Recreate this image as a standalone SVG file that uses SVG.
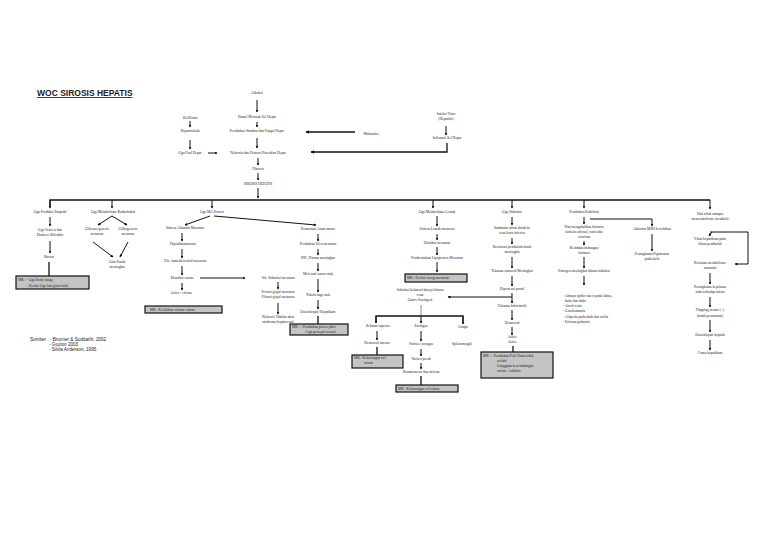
<svg xmlns="http://www.w3.org/2000/svg" width="768" height="543" viewBox="0 0 768 543">
<style>
text{font-family:"Liberation Serif",serif;font-size:3.6px;fill:#222;text-anchor:middle}
.l{text-anchor:start}
.s{font-family:"Liberation Sans",sans-serif;font-size:4.6px;text-anchor:start}
line,polyline{stroke:#111;stroke-width:1;fill:none}
.c line,.c polyline{marker-end:url(#a)}
.t{stroke-width:1.3}
.mk{fill:#c4c4c4;stroke:#111;stroke-width:1.2}
</style>
<defs><marker id="a" viewBox="0 0 6 6" refX="5" refY="3" markerWidth="3" markerHeight="3" orient="auto"><path d="M0,0 L6,3 L0,6z" fill="#111"/></marker></defs>
<rect width="768" height="543" fill="#fff"/>
<text x="37" y="96" class="l" style="font-family:'Liberation Sans',sans-serif;font-size:8.5px;font-weight:bold;text-decoration:underline">WOC SIROSIS HEPATIS</text>
<g id="top">
<text x="257" y="94">Alkohol</text>
<text x="257" y="118">Etanol Merusak Sel Hepar</text>
<text x="257" y="132">Perubahan Struktur dan Fungsi Hepar</text>
<text x="258" y="154">Nekrosis dan Distorsi Parenkim Hepar</text>
<text x="258" y="170">Fibrosis</text>
<text x="258" y="185">SIROSIS HEPATIS</text>
<text x="190" y="119">Zat Kimia</text>
<text x="190" y="132">Hepatotoksik</text>
<text x="190" y="154">Ggn Faal Hepar</text>
<text x="371" y="135">Malnutrisi</text>
<text x="446" y="115">Infeksi Virus</text>
<text x="446" y="120">(Hepatitis)</text>
<text x="447" y="139">Inflamasi Sel Hepar</text>
</g>
<g id="left">
<text x="50" y="213">Ggn Produksi Empedu</text>
<text x="50" y="231">Ggn Sekresi dan</text><text x="50" y="236">Ekskresi Bilirubin</text>
<text x="49" y="258">Ikterus</text>
<rect class="mk" x="16" y="276" width="73" height="13"/>
<text x="18" y="281" class="l">MK : - Ggn Body image</text>
<text x="27" y="287" class="l">- Resiko Ggn Integritas kulit</text>
<text x="113" y="213">Ggn Metabolisme Karbohidrat</text>
<text x="97" y="230">Glikoneogenesis</text><text x="97" y="235">menurun</text>
<text x="128" y="230">Glikogenesis</text><text x="128" y="235">menurun</text>
<text x="117" y="263">Gula Darah</text><text x="117" y="268">meningkat</text>
</g>
<g id="protein">
<text x="212" y="213">Ggn Mel Protein</text>
<text x="185" y="229">Sintesa Albumin Menurun</text>
<text x="183" y="245">Hipoalbuminemia</text>
<text x="185" y="262">Tek. osmotik koloid menurun</text>
<text x="182" y="279">Eksudasi cairan</text>
<text x="181" y="294">Asites / edema</text>
<rect class="mk" x="145" y="306" width="77" height="7"/>
<text x="150" y="311" class="l">MK : Kelebihan volume cairan</text>
<text x="278" y="279">Vol. Sirkulasi menurun</text>
<text x="278" y="293">Perfusi ginjal menurun</text><text x="278" y="298">Filtrasi ginjal menurun</text>
<text x="278" y="318">Nekrosis Tubular akut</text><text x="278" y="323">sindroma hepatorenal</text>
<text x="318" y="230">Deaminasi Asam amino</text>
<text x="318" y="245">Perubahan Urea menurun</text>
<text x="318" y="259">NH<tspan font-size="2.5" dy="1">3</tspan><tspan dy="-1"> Plasma meningkat</tspan></text>
<text x="318" y="275">Melewati sawar otak</text>
<text x="318" y="296">Toksin bagi otak</text>
<text x="318" y="313">Ensefalopati Hepatikum</text>
<rect class="mk" x="290" y="324" width="58" height="11"/>
<text x="292" y="328" class="l">MK : - Perubahan proses pikir</text>
<text x="304" y="333" class="l">- Ggn persepsi sensori</text>
</g>
<g id="lemak">
<text x="437" y="213">Ggn Metabolisme Lemak</text>
<text x="437" y="230">Sintesa Lemak menurun</text>
<text x="437" y="244">Oksidasi menurun</text>
<text x="437" y="259">Pembentukan Lipoprotein Menurun</text>
<rect class="mk" x="405" y="274" width="62" height="8"/>
<text x="407" y="279" class="l">MK : Defisit energi menurun</text>
<text x="420" y="291">Sirkulasi kolateral dan pelebaran</text><text x="420" y="296">vena</text><text x="420" y="301">Gastro Esofageal</text>
<text x="378" y="327">Rektum superior</text>
<text x="421" y="327">Esofagus</text>
<text x="463" y="328">Limpa</text>
<text x="377" y="344">Hemoroid interna</text>
<text x="421" y="345">Varises esofagus</text>
<text x="462" y="345">Splenomegali</text>
<rect class="mk" x="352" y="355" width="51" height="13"/>
<text x="354" y="359" class="l">MK : Kekurangan vol</text><text x="364" y="364" class="l">cairan</text>
<text x="421" y="360">Varises pecah</text>
<text x="421" y="373">Hematemesis dan melena</text>
<rect class="mk" x="396" y="385" width="62" height="7"/>
<text x="398" y="390" class="l">MK : Kekurangan vol cairan</text>
</g>
<g id="sirkulasi">
<text x="512" y="213">Ggn Sirkulasi</text>
<text x="512" y="229">Sumbatan aliran darah ke</text><text x="512" y="234">vena kava inferior</text>
<text x="512" y="248">Resistensi pembuluh darah</text><text x="512" y="253">meningkat</text>
<text x="512" y="272">Tekanan sinusoid Meningkat</text>
<text x="512" y="290">Hipertensi portal</text>
<text x="512" y="307">Tekanan hidrostatik</text>
<text x="512" y="324">Hemoroid</text>
<text x="512" y="338">Asites</text><text x="512" y="343">Asites</text>
<rect class="mk" x="481" y="352" width="72" height="26"/>
<text x="483" y="357" class="l">MK : - Perubahan Pola Nafas tidak</text>
<text x="497" y="362" class="l">efektif</text>
<text x="495" y="367" class="l">- Gangguan keseimbangan</text>
<text x="497" y="372" class="l">cairan : Asidosis</text>
</g>
<g id="endokrin">
<text x="584" y="213">Perubahan Endokrin</text>
<text x="584" y="228">Hati mengaktifkan hormon</text><text x="584" y="233">korteks adrenal, testis dan</text><text x="584" y="238">ovarium</text>
<text x="584" y="249">Ketidakseimbangan</text><text x="584" y="254">hormon</text>
<text x="584" y="272">Estrogen meningkat dalam sirkulasi</text>
<text x="563" y="297" class="l">- Adanya spider naevi pada lubuu,</text>
<text x="565" y="302" class="l">bahu dan dada</text>
<text x="563" y="307" class="l">- Atrofi testis</text>
<text x="563" y="312" class="l">- Ginekomastia</text>
<text x="563" y="318" class="l">- Alopesia pada dada dan axilla</text>
<text x="563" y="323" class="l">- Eritema palmaris</text>
<text x="652" y="230">Aktivitas MSH berlebihan</text>
<text x="652" y="255">Peningkatan Pigmentasi</text><text x="652" y="260">pada kulit</text>
</g>
<g id="kanan">
<text x="710" y="215">Hati tidak mampu</text><text x="710" y="220">memetabolisme metabolit</text>
<text x="710" y="240">Vitrat hepatikum pada</text><text x="710" y="245">aliran pembuluh</text>
<text x="710" y="264">Kelainan metabolisme</text><text x="710" y="269">amoniak</text>
<text x="710" y="288">Peningkatan kepekaan</text><text x="710" y="293">otak terhadap toksin</text>
<text x="710" y="311">Flapping tremor (+)</text><text x="710" y="317">(tanda penurunan)</text>
<text x="710" y="336">Ensefalopati hepatik</text>
<text x="710" y="354">Coma hepatikum</text>
</g>
<g id="sumber">
<text x="30" y="341" class="s">Sumber :  -  Brunner &amp; Suddarth, 2002</text>
<text x="49" y="346" class="s">- Guyton 2003</text>
<text x="49" y="351" class="s">- Silvia Anderson, 1995</text>
</g>
<g id="connectors" class="c">
<line x1="257" y1="100" x2="257" y2="112"/>
<line x1="257" y1="122" x2="257" y2="127"/>
<line x1="257" y1="138" x2="257" y2="148"/>
<line x1="258" y1="158" x2="258" y2="165"/>
<line x1="258" y1="173" x2="258" y2="180"/>
<line x1="258" y1="188" x2="258" y2="198"/>
<line x1="190" y1="121" x2="190" y2="127"/>
<line x1="190" y1="140" x2="190" y2="149"/>
<line x1="208" y1="153" x2="217" y2="153"/>
<line class="t" x1="355" y1="132" x2="306" y2="132"/>
<polyline class="t" points="447,143 447,152 311,152"/>
<line x1="446" y1="126" x2="446" y2="135"/>
<polyline class="t" style="marker-end:none" points="50,207 50,200 710,200"/>
<line x1="50" y1="200" x2="50" y2="208"/>
<line x1="112" y1="200" x2="112" y2="208"/>
<line x1="212" y1="200" x2="212" y2="208"/>
<line x1="433" y1="200" x2="433" y2="208"/>
<line x1="512" y1="200" x2="512" y2="208"/>
<line x1="584" y1="200" x2="584" y2="208"/>
<line x1="710" y1="200" x2="710" y2="209"/>
<line x1="50" y1="217" x2="50" y2="226"/>
<line x1="50" y1="241" x2="50" y2="253"/>
<line class="t" style="marker-end:none" x1="49" y1="262" x2="49" y2="276"/>
<line x1="112" y1="216" x2="98" y2="225"/>
<line x1="112" y1="216" x2="127" y2="225"/>
<line x1="93" y1="242" x2="113" y2="257"/>
<line x1="128" y1="242" x2="120" y2="257"/>
<line x1="210" y1="216" x2="185" y2="225"/>
<line x1="214" y1="216" x2="316" y2="225"/>
<line x1="182" y1="233" x2="182" y2="241"/>
<line x1="182" y1="249" x2="182" y2="258"/>
<line x1="182" y1="266" x2="182" y2="275"/>
<line x1="182" y1="283" x2="182" y2="290"/>
<line x1="200" y1="278" x2="245" y2="278"/>
<line x1="278" y1="282" x2="278" y2="289"/>
<line x1="278" y1="303" x2="278" y2="314"/>
<line x1="318" y1="234" x2="318" y2="241"/>
<line x1="318" y1="249" x2="318" y2="255"/>
<line x1="318" y1="263" x2="318" y2="271"/>
<line x1="318" y1="279" x2="318" y2="292"/>
<line x1="318" y1="300" x2="318" y2="309"/>
<line class="t" style="marker-end:none" x1="318" y1="316" x2="318" y2="324"/>
<line x1="437" y1="216" x2="437" y2="226"/>
<line x1="437" y1="234" x2="437" y2="240"/>
<line x1="437" y1="247" x2="437" y2="255"/>
<line x1="437" y1="262" x2="437" y2="272"/>
<line x1="512" y1="217" x2="512" y2="225"/>
<line x1="512" y1="238" x2="512" y2="244"/>
<line x1="512" y1="257" x2="512" y2="268"/>
<line x1="512" y1="276" x2="512" y2="286"/>
<line x1="512" y1="293" x2="512" y2="303"/>
<line x1="512" y1="310" x2="512" y2="320"/>
<line x1="512" y1="327" x2="512" y2="335"/>
<line class="t" style="marker-end:none" x1="513" y1="346" x2="513" y2="352"/>
<line x1="512" y1="297" x2="448" y2="297"/>
<line style="marker-end:none;stroke:#888" x1="421" y1="305" x2="421" y2="316"/>
<polyline class="t" style="marker-end:none" points="376,322 376,316 463,316 463,322"/>
<line x1="376" y1="316" x2="376" y2="323"/>
<line x1="421" y1="316" x2="421" y2="323"/>
<line x1="463" y1="316" x2="463" y2="324"/>
<line x1="377" y1="331" x2="377" y2="340"/>
<line x1="421" y1="331" x2="421" y2="341"/>
<line class="t" style="marker-end:none" x1="377" y1="347" x2="377" y2="355"/>
<line x1="421" y1="349" x2="421" y2="356"/>
<line x1="421" y1="363" x2="421" y2="369"/>
<line class="t" style="marker-end:none" x1="421" y1="376" x2="421" y2="385"/>
<line x1="584" y1="217" x2="584" y2="224"/>
<polyline points="590,219 652,219 652,226"/>
<line x1="584" y1="241" x2="584" y2="245"/>
<line x1="584" y1="257" x2="584" y2="268"/>
<line x1="584" y1="276" x2="584" y2="285"/>
<line x1="652" y1="234" x2="652" y2="251"/>
<polyline points="748,232 748,264 735,264"/>
<line style="marker-end:none" x1="748" y1="232" x2="710" y2="232"/>
<line x1="712" y1="232" x2="709" y2="236"/>
<line x1="710" y1="273" x2="710" y2="284"/>
<line x1="710" y1="297" x2="710" y2="307"/>
<line x1="710" y1="320" x2="710" y2="332"/>
<line x1="710" y1="340" x2="710" y2="350"/>
</g>
</svg>
